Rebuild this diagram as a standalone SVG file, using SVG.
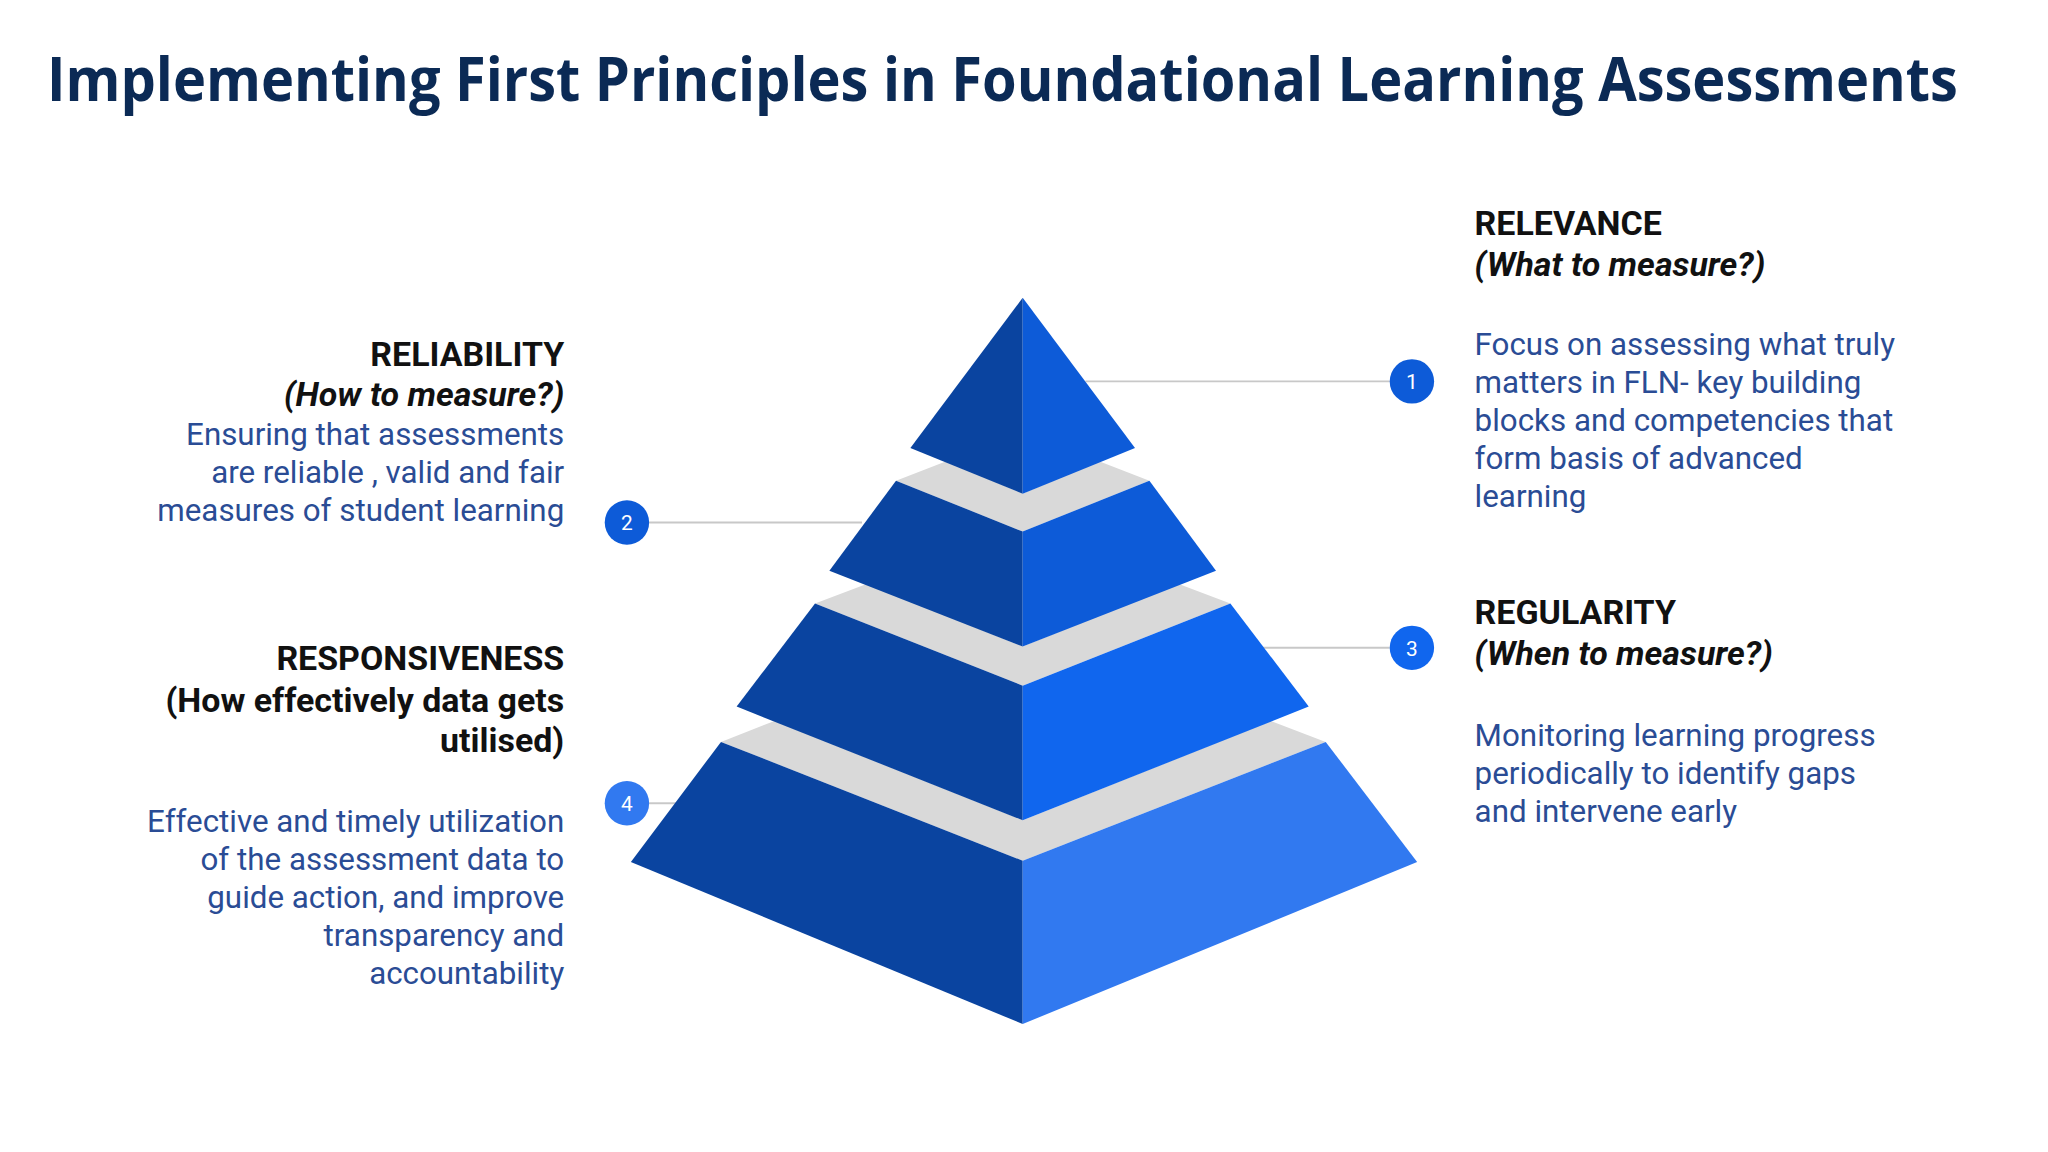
<svg xmlns="http://www.w3.org/2000/svg" width="2048" height="1152" viewBox="0 0 2048 1152">
<style>
.t{font-family:"Open Sans","Liberation Sans",sans-serif;font-weight:bold;fill:#0B2A55}
.h{font-family:Roboto,"Liberation Sans",sans-serif;font-weight:bold;font-size:26px;fill:#111}
.hi{font-family:Roboto,"Liberation Sans",sans-serif;font-weight:bold;font-style:italic;font-size:26px;fill:#111}
.b{font-family:Roboto,"Liberation Sans",sans-serif;font-size:24px;fill:#2A4C95}
.l{fill:#0A44A0}.g{fill:#D9D9D9}
.c{stroke:#C8C8C8;stroke-width:1.5}
.n{font-family:Roboto,"Liberation Sans",sans-serif;font-size:16px;fill:#fff;text-anchor:middle}
.r{text-anchor:end}
</style>
<rect width="2048" height="1152" fill="#fff"/>
<g transform="scale(1.30612)">
<text class="t" x="36" y="77" font-size="46" textLength="1463" lengthAdjust="spacingAndGlyphs">Implementing First Principles in Foundational Learning Assessments</text>
<g id="connectors">
<line class="c" x1="831" y1="292" x2="1064" y2="292"/>
<line class="c" x1="497" y1="400" x2="660" y2="400"/>
<line class="c" x1="967" y1="496" x2="1064" y2="496"/>
<line class="c" x1="497" y1="615" x2="518" y2="615"/>
</g>
<g id="pyramid">
<polygon class="g" points="686,368 725,353 783,378 841,353 880,368 783,407"/>
<polygon class="g" points="624,462 664,447 783,495 902,447 942,462 783,525"/>
<polygon class="g" points="552,568 593,552 783,628 973,552 1015,568 783,659"/>
<polygon class="l" points="783,228 697,343 783,378"/>
<polygon points="783,228 869,343 783,378" fill="#0D5BD8"/>
<polygon class="l" points="686,368 783,407 783,495 635,437"/>
<polygon points="880,368 783,407 783,495 931,437" fill="#0D5BD8"/>
<polygon class="l" points="624,462 783,525 783,628 564,541"/>
<polygon points="942,462 783,525 783,628 1002,541" fill="#1066EE"/>
<polygon class="l" points="552,568 783,659 783,784 483,660"/>
<polygon points="1015,568 783,659 783,784 1085,660" fill="#3179F0"/>
</g>
<g id="n1"><circle cx="1081" cy="292" r="17" fill="#0D5BD8"/><text class="n" x="1081" y="298">1</text>
<text class="h" x="1129" y="180">RELEVANCE</text><text class="hi" x="1129" y="211">(What to measure?)</text>
<text class="b" x="1129" y="272">Focus on assessing what truly</text><text class="b" x="1129" y="301">matters in FLN- key building</text><text class="b" x="1129" y="330">blocks and competencies that</text><text class="b" x="1129" y="359">form basis of advanced</text><text class="b" x="1129" y="388">learning</text></g>
<g id="n2"><circle cx="480" cy="400" r="17" fill="#0D5BD8"/><text class="n" x="480" y="406">2</text>
<text class="h r" x="432" y="280">RELIABILITY</text><text class="hi r" x="432" y="311">(How to measure?)</text>
<text class="b r" x="432" y="341">Ensuring that assessments</text><text class="b r" x="432" y="370">are reliable , valid and fair</text><text class="b r" x="432" y="399">measures of student learning</text></g>
<g id="n3"><circle cx="1081" cy="496" r="17" fill="#1066EE"/><text class="n" x="1081" y="502">3</text>
<text class="h" x="1129" y="478">REGULARITY</text><text class="hi" x="1129" y="509">(When to measure?)</text>
<text class="b" x="1129" y="571">Monitoring learning progress</text><text class="b" x="1129" y="600">periodically to identify gaps</text><text class="b" x="1129" y="629">and intervene early</text></g>
<g id="n4"><circle cx="480" cy="615" r="17" fill="#3179F0"/><text class="n" x="480" y="621">4</text>
<text class="h r" x="432" y="513">RESPONSIVENESS</text><text class="h r" x="432" y="545">(How effectively data gets</text><text class="h r" x="432" y="576">utilised)</text>
<text class="b r" x="432" y="637">Effective and timely utilization</text><text class="b r" x="432" y="666">of the assessment data to</text><text class="b r" x="432" y="695">guide action, and improve</text><text class="b r" x="432" y="724">transparency and</text><text class="b r" x="432" y="753">accountability</text></g>
</g>
</svg>
